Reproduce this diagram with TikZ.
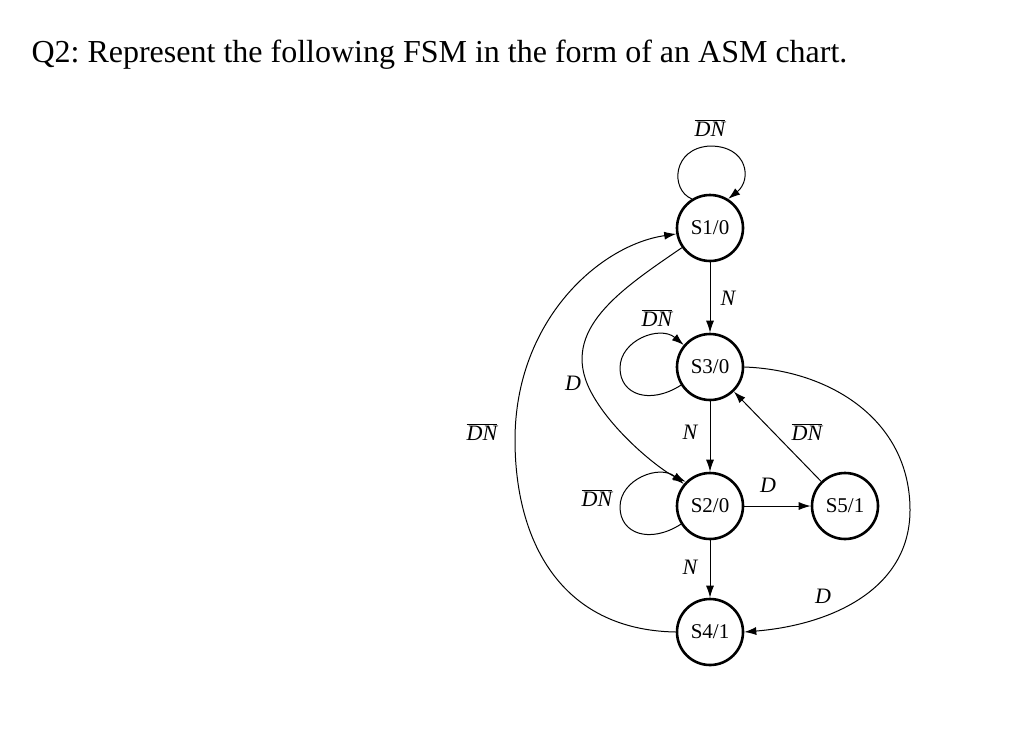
\documentclass[tikz,border=0pt]{standalone}
\usepackage{fontspec}
\setmainfont{Liberation Serif}
\frenchspacing
\usetikzlibrary{arrows.meta}
\newcommand{\negv}[1]{$\overline{\textit{#1}}$}
\begin{document}
\begin{tikzpicture}[x=1pt,y=-1pt,
  st/.style={circle,draw,line width=2.6pt,minimum size=66pt,inner sep=0pt,font=\fontsize{21}{21}\selectfont},
  tr/.style={draw,line width=1pt,-{Latex[length=12pt,width=8pt]}},
  lb/.style={font=\fontsize{22}{22}\selectfont\itshape}]
\useasboundingbox (0,0) rectangle (1024,728);
\node[anchor=base west,font=\fontsize{32}{32}\selectfont] (title) at (28,62) {Q2: Represent the following FSM in the form of an ASM chart.};
\node[st] (s1) at (710,228) {S1/0};
\node[st] (s3) at (710,367) {S3/0};
\node[st] (s2) at (710,506) {S2/0};
\node[st] (s4) at (710,632) {S4/1};
\node[st] (s5) at (845,506) {S5/1};
% self loops
\draw[tr] (s1.122) .. controls (670,190) and (672,148) .. (710,146) .. controls (748,146) and (752,180) .. (s1.58);
\draw[tr] (s3.212) .. controls (650,405) and (620,395) .. (620,368) .. controls (620,340) and (660,325) .. (s3.140);
\draw[tr] (s2.212) .. controls (650,544) and (620,534) .. (620,507) .. controls (620,479) and (660,464) .. (s2.140);
% straight
\draw[tr] (s1) -- (s3);
\draw[tr] (s3) -- (s2);
\draw[tr] (s2) -- (s4);
\draw[tr] (s2) -- (s5);
\draw[tr] (s5) -- (s3);
% curves
\draw[tr] (s1.215) .. controls (620,290) and (560,330) .. (590,390) .. controls (610,430) and (660,470) .. (s2.135);
\draw[tr] (s4.180) .. controls (560,630) and (515,540) .. (515,440) .. controls (515,320) and (600,245) .. (s1.190);
\draw[tr] (s3.0) .. controls (830,370) and (910,420) .. (910,510) .. controls (910,590) and (830,625) .. (s4.0);
% labels
\node[lb] (l1) at (710,128) {\negv{D}\negv{N}};
\node[lb] (l2) at (728,298) {N};
\node[lb] (l3) at (657,318) {\negv{D}\negv{N}};
\node[lb] (l4) at (573,383) {D};
\node[lb] (l5) at (482,432) {\negv{D}\negv{N}};
\node[lb] (l6) at (690,432) {N};
\node[lb] (l7) at (807,432) {\negv{D}\negv{N}};
\node[lb] (l8) at (597,498) {\negv{D}\negv{N}};
\node[lb] (l9) at (768,485) {D};
\node[lb] (l10) at (690,567) {N};
\node[lb] (l11) at (823,596) {D};
\end{tikzpicture}
\end{document}
